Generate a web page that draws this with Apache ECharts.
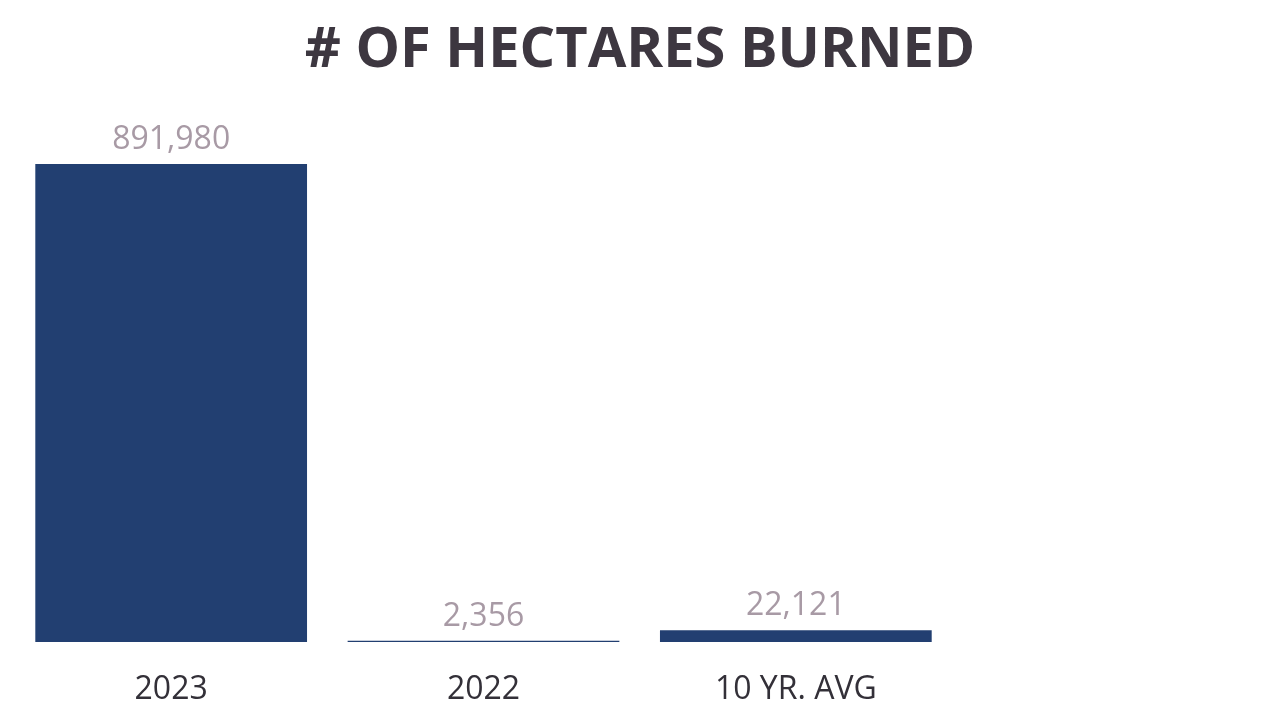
<!DOCTYPE html>
<html><head><meta charset="utf-8">
<script src="https://cdn.jsdelivr.net/npm/echarts@6/dist/echarts.min.js"></script>
<style>html,body{margin:0;padding:0;background:#fff}#c{width:1280px;height:720px}</style>
</head><body><div id="c"></div>
<script>
const categories = ['2023', '2022', '10 YR. AVG'];
const values = [891980, 2356, 22121];
const chart = echarts.init(document.getElementById('c'));
chart.setOption({
  backgroundColor: '#fff',
  title: { text: '# OF HECTARES BURNED', left: 'center', top: 18,
    textStyle: { fontFamily: 'Open Sans', fontWeight: 'bold', fontSize: 56, color: '#3d3740' } },
  grid: { left: 15, width: 937, top: 164, bottom: 78 },
  xAxis: { type: 'category', data: categories,
    axisLine: { show: false }, axisTick: { show: false },
    axisLabel: { fontFamily: 'Open Sans', fontSize: 32, color: '#333038', margin: 32, letterSpacing: 2 } },
  yAxis: { type: 'value', min: 0, max: 891980, show: false, splitLine: { show: false } },
  series: [{ type: 'bar', data: values, barCategoryGap: '13%',
    itemStyle: { color: '#223f71' },
    label: { show: true, position: 'top', distance: 8, fontFamily: 'Open Sans', fontSize: 32, color: '#a89aa5',
      formatter: p => p.value.toLocaleString('en-US') } }],
  animation: false
});
</script></body></html>
